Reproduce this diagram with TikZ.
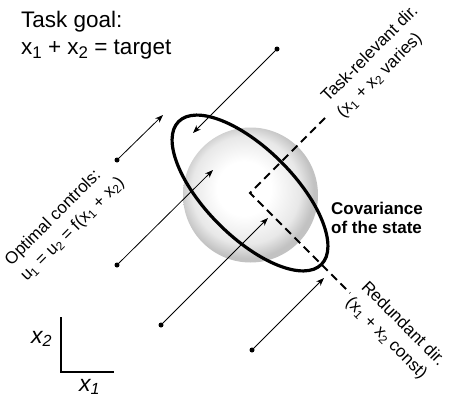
\documentclass[tikz,border=0pt]{standalone}
\usepackage{fontspec}
\setmainfont{Liberation Sans}
\usetikzlibrary{arrows.meta}
\pgfdeclareradialshading{spherefill}{\pgfpoint{-3bp}{3bp}}{color(0bp)=(white); color(10bp)=(white); color(20bp)=(black!9); color(25bp)=(black!24); color(50bp)=(black!24)}
\newcommand{\sbs}[1]{\raisebox{-0.22em}{\scalebox{0.75}{#1}}}
\begin{document}
\begin{tikzpicture}[x=1pt,y=-1pt,
  thinarrow/.style={line width=0.8pt,-{Stealth[length=8pt,width=6pt,inset=2.5pt]}},
  dotnode/.style={circle,fill=black,inner sep=0pt,minimum size=5pt},
  lbl/.style={inner sep=0pt,font=\fontsize{17}{22}\selectfont,align=left},
  titlefont/.style={inner sep=0pt,anchor=base west,font=\fontsize{22.5}{27}\selectfont},
  axlabel/.style={inner sep=0pt,anchor=base west,font=\itshape\fontsize{23}{26}\selectfont},
  dashline/.style={line width=2pt,dash pattern=on 8pt off 5pt},
  covline/.style={line width=3.2pt}
]
\useasboundingbox (0,0) rectangle (450,402);
% sphere
\shade[shading=spherefill] (250.5,195) circle (67.5pt);
% dashed directions
\coordinate (corner) at (250,193);
\coordinate (relend) at (325,118);
\coordinate (redend) at (350,293);
\draw[dashline] (relend) -- (corner) -- (redend);
% covariance ellipse
\draw[covline, rotate around={-45:(corner)}] (corner) ellipse [x radius=101pt, y radius=44pt];
% arrows
\node[dotnode] (d1) at (117,160) {};
\coordinate (t1) at (163,115);
\draw[thinarrow] (d1.center) -- (t1);
\node[dotnode] (d2) at (277,49) {};
\coordinate (t2) at (193,133);
\draw[thinarrow] (d2.center) -- (t2);
\node[dotnode] (d3) at (117,265) {};
\coordinate (t3) at (213,170);
\draw[thinarrow] (d3.center) -- (t3);
\node[dotnode] (d4) at (161,325) {};
\coordinate (t4) at (268,218);
\draw[thinarrow] (d4.center) -- (t4);
\node[dotnode] (d5) at (252,350) {};
\coordinate (t5) at (324,278);
\draw[thinarrow] (d5.center) -- (t5);
% texts
\node[titlefont] (goal) at (21,27) {Task goal:};
\node[titlefont] (eq) at (21,54) {x\sbs{1} + x\sbs{2} = target};
\node[lbl,rotate=45] (opt) at (65,222) {Optimal controls:\\u\textsubscript{1} = u\textsubscript{2} = f(x\textsubscript{1} + x\textsubscript{2})};
\node[lbl,rotate=45] (rel) at (378,62) {Task-relevant dir.\\(x\textsubscript{1} + x\textsubscript{2} varies)};
\node[lbl,rotate=-45] (red) at (395,332) {Redundant dir.\\(x\textsubscript{1} + x\textsubscript{2} const)};
\node[lbl,anchor=west,font=\bfseries\fontsize{17}{19.5}\selectfont] (cov) at (331,218) {Covariance\\of the state};
% axes
\coordinate (ax0) at (61,372);
\coordinate (ay) at (61,317);
\coordinate (axx) at (114,372);
\draw[line width=1.8pt] (ay) -- (ax0) -- (axx);
\node[axlabel] (lx2) at (31,343) {x\textsubscript{2}};
\node[axlabel] (lx1) at (79,391) {x\textsubscript{1}};
\end{tikzpicture}
\end{document}
